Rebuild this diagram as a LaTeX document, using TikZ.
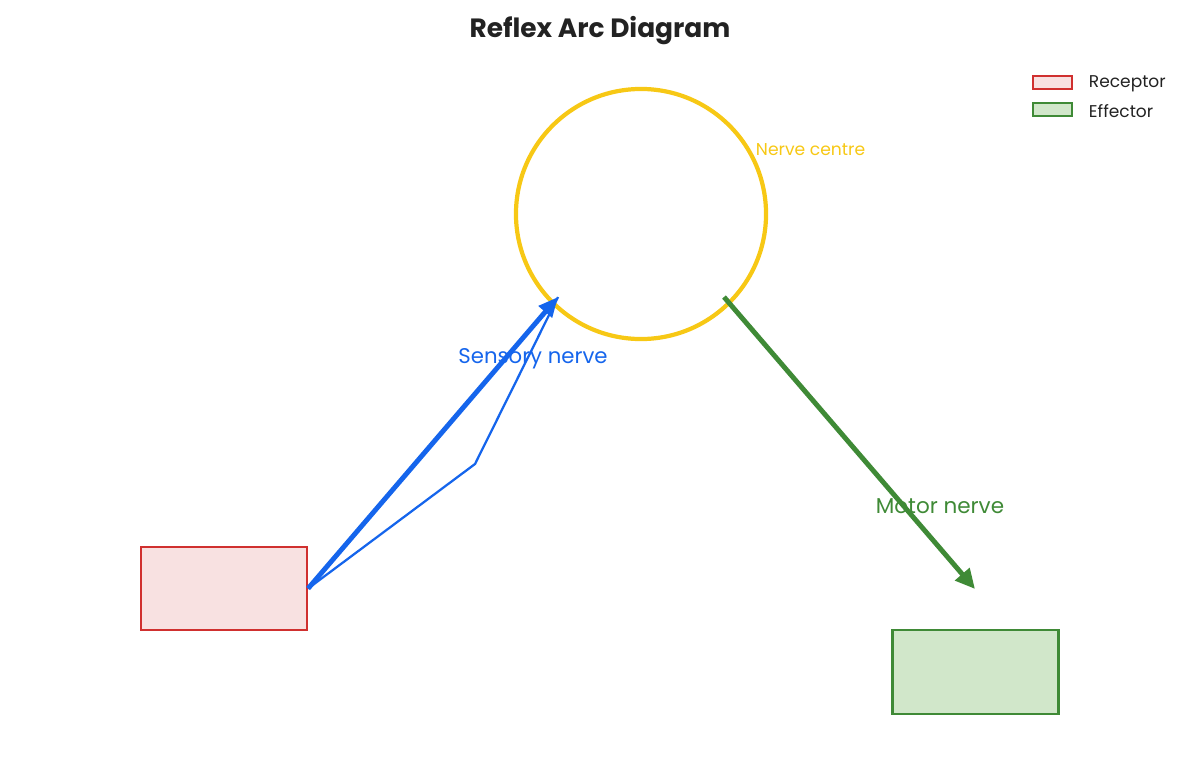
\documentclass[tikz,border=0pt]{standalone}
\usepackage{fontspec}
\setmainfont{Poppins}
\usetikzlibrary{arrows.meta}

\definecolor{nerveblue}{HTML}{1565EC}
\definecolor{centreyellow}{HTML}{F7C815}
\definecolor{motorgreen}{HTML}{3F8A36}
\definecolor{recred}{HTML}{D0302F}
\definecolor{recfill}{HTML}{F8E1E1}
\definecolor{efffill}{HTML}{D1E7CA}
\definecolor{titlegray}{HTML}{222222}

\begin{document}
\begin{tikzpicture}[x=0.025cm,y=-0.025cm,
  organbox/.style={draw,line width=1.5pt,minimum width=4.15cm,minimum height=2.08cm,inner sep=0pt},
  keybox/.style={draw,line width=1.3pt,minimum width=0.97cm,minimum height=0.33cm,inner sep=0pt},
  keytext/.style={anchor=west,text=titlegray,font=\fontsize{12.1}{14}\selectfont}]

\useasboundingbox (0,0) rectangle (1200,763);

% Title
\node[text=titlegray,font=\fontsize{18.8}{22}\selectfont\bfseries] (title) at (600,31) {Reflex Arc Diagram};

% Nerve centre
\node[circle,draw=centreyellow,line width=3pt,minimum size=6.25cm,inner sep=0pt] (centre) at (641,214) {};
\node[text=centreyellow,anchor=west,font=\fontsize{12.2}{14}\selectfont] (centrelabel) at (751,149.5) {Nerve centre};

% Receptor and effector
\node[organbox,draw=recred,fill=recfill] (receptor) at (224,588.5) {};
\node[organbox,draw=motorgreen,fill=efffill] (effector) at (975.5,672) {};

% Nerve ends
\coordinate (sensoryend) at (558,297);
\coordinate (bend) at (475,464);
\coordinate (motorstart) at (724,297);
\coordinate (motorend) at (975,589);

% Sensory nerve
\draw[nerveblue,line width=1.6pt,line join=miter] (receptor.east) -- (bend) -- (sensoryend);
\draw[nerveblue,line width=3.5pt,-{Triangle[length=14pt,width=12pt]}] (receptor.east) -- (sensoryend);
\node[text=nerveblue,font=\fontsize{15.1}{18}\selectfont] (sensorylabel) at (533,359) {Sensory nerve};

% Motor nerve
\draw[motorgreen,line width=3.5pt,-{Triangle[length=14pt,width=13pt]}] (motorstart) -- (motorend);
\node[text=motorgreen,font=\fontsize{15.3}{18}\selectfont] (motorlabel) at (940,506) {Motor nerve};

% Legend
\node[keybox,draw=recred,fill=recfill] (keyrec) at (1052.5,82.5) {};
\node[keytext] (keyrectext) at (1084,84) {Receptor};
\node[keybox,draw=motorgreen,fill=efffill] (keyeff) at (1052.5,109.5) {};
\node[keytext] (keyefftext) at (1084,111) {Effector};

\end{tikzpicture}
\end{document}
